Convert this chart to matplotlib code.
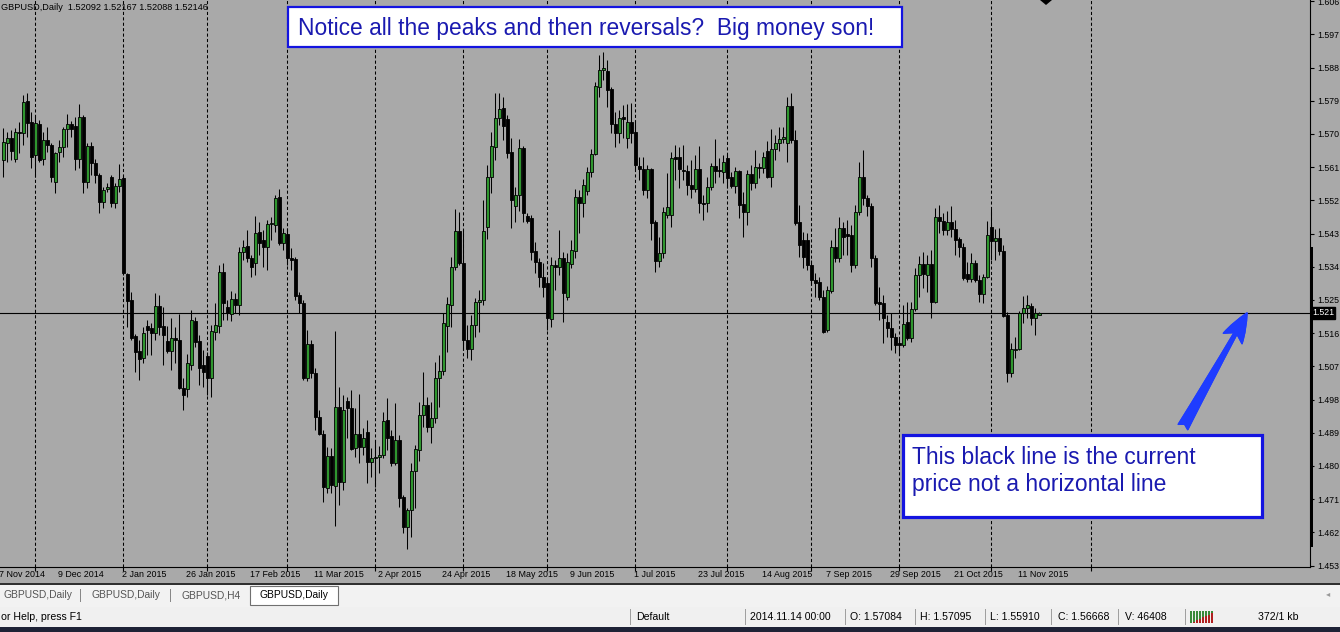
import matplotlib
matplotlib.use("Agg")
import matplotlib.pyplot as plt
from matplotlib.patches import Rectangle, Polygon
from matplotlib.transforms import blended_transform_factory
import numpy as np

# GBPUSD daily candles
opens = [
    1.5629, 1.5675, 1.5689, 1.5632, 1.5705, 1.5703, 1.5789, 1.5732, 1.5643, 1.5727,
    1.5632, 1.5684, 1.5670, 1.5570, 1.5651, 1.5665, 1.5713, 1.5727, 1.5721, 1.5632,
    1.5746, 1.5570, 1.5667, 1.5621, 1.5589, 1.5515, 1.5551, 1.5583, 1.5513, 1.5559,
    1.5581, 1.5320, 1.5250, 1.5152, 1.5112, 1.5093, 1.5179, 1.5174, 1.5160, 1.5234,
    1.5179, 1.5139, 1.5112, 1.5147, 1.5141, 1.5011, 1.5009, 1.5074, 1.5193, 1.5139,
    1.5074, 1.5098, 1.5038, 1.5163, 1.5179, 1.5326, 1.5231, 1.5212, 1.5253, 1.5236,
    1.5380, 1.5396, 1.5364, 1.5350, 1.5434, 1.5412, 1.5393, 1.5456, 1.5453, 1.5529,
    1.5404, 1.5429, 1.5364, 1.5361, 1.5263, 1.5242, 1.5038, 1.5131, 1.5052, 1.4933,
    1.4887, 1.4740, 1.4827, 1.4746, 1.4960, 1.4756, 1.4976, 1.4957, 1.4849, 1.4887,
    1.4851, 1.4892, 1.4811, 1.4822, 1.4824, 1.4830, 1.4925, 1.4881, 1.4808, 1.4870,
    1.4716, 1.4634, 1.4681, 1.4786, 1.4843, 1.4938, 1.4965, 1.4906, 1.4930, 1.5038,
    1.5057, 1.5179, 1.5236, 1.5339, 1.5437, 1.5350, 1.5141, 1.5117, 1.5182, 1.5244,
    1.5250, 1.5448, 1.5583, 1.5665, 1.5743, 1.5770, 1.5740, 1.5651, 1.5505, 1.5534,
    1.5662, 1.5477, 1.5472, 1.5383, 1.5353, 1.5312, 1.5296, 1.5198, 1.5345, 1.5339,
    1.5364, 1.5258, 1.5348, 1.5383, 1.5529, 1.5513, 1.5545, 1.5597, 1.5646, 1.5827,
    1.5873, 1.5871, 1.5822, 1.5727, 1.5703, 1.5746, 1.5689, 1.5732, 1.5705, 1.5613,
    1.5605, 1.5548, 1.5605, 1.5461, 1.5356, 1.5377, 1.5480, 1.5480, 1.5637, 1.5637,
    1.5602, 1.5600, 1.5562, 1.5551, 1.5605, 1.5513, 1.5513, 1.5556, 1.5613, 1.5602,
    1.5597, 1.5635, 1.5583, 1.5559, 1.5600, 1.5510, 1.5488, 1.5591, 1.5567, 1.5610,
    1.5608, 1.5654, 1.5583, 1.5659, 1.5675, 1.5686, 1.5675, 1.5776, 1.5684, 1.5461,
    1.5412, 1.5412, 1.5345, 1.5304, 1.5299, 1.5258, 1.5168, 1.5274, 1.5393, 1.5364,
    1.5445, 1.5429, 1.5426, 1.5345, 1.5488, 1.5583, 1.5526, 1.5505, 1.5364, 1.5244,
    1.5242, 1.5190, 1.5174, 1.5150, 1.5133, 1.5128, 1.5190, 1.5147, 1.5225, 1.5318,
    1.5347, 1.5318, 1.5347, 1.5244, 1.5475, 1.5464, 1.5440, 1.5461, 1.5442, 1.5415,
    1.5393, 1.5320, 1.5307, 1.5350, 1.5304, 1.5266, 1.5312, 1.5448, 1.5410, 1.5418,
    1.5383, 1.5209, 1.5052, 1.5114, 1.5117, 1.5215, 1.5228, 1.5234, 1.5201, 1.52092,
]
highs = [
    1.5716, 1.5705, 1.5711, 1.5716, 1.5732, 1.5805, 1.5811, 1.5759, 1.5751, 1.5738,
    1.5705, 1.5719, 1.5675, 1.5651, 1.5684, 1.5719, 1.5754, 1.5735, 1.5746, 1.5781,
    1.5751, 1.5675, 1.5678, 1.5632, 1.5594, 1.5556, 1.5567, 1.5589, 1.5567, 1.5619,
    1.5586, 1.5323, 1.5272, 1.5158, 1.5141, 1.5177, 1.5196, 1.5187, 1.5269, 1.5263,
    1.5231, 1.5179, 1.5201, 1.5177, 1.5212, 1.5038, 1.5104, 1.5223, 1.5204, 1.5155,
    1.5114, 1.5109, 1.5182, 1.5242, 1.5345, 1.5350, 1.5250, 1.5274, 1.5269, 1.5393,
    1.5412, 1.5440, 1.5372, 1.5477, 1.5461, 1.5440, 1.5467, 1.5475, 1.5534, 1.5550,
    1.5445, 1.5445, 1.5391, 1.5366, 1.5272, 1.5250, 1.5168, 1.5141, 1.5065, 1.4952,
    1.4897, 1.4851, 1.4849, 1.5166, 1.5014, 1.4992, 1.4987, 1.5006, 1.4957, 1.4995,
    1.4903, 1.4925, 1.4849, 1.4870, 1.4854, 1.4946, 1.4984, 1.4897, 1.4971, 1.4884,
    1.4721, 1.4686, 1.4808, 1.4857, 1.4973, 1.5055, 1.4987, 1.4973, 1.5082, 1.5101,
    1.5215, 1.5258, 1.5366, 1.5496, 1.5488, 1.5442, 1.5182, 1.5209, 1.5255, 1.5277,
    1.5521, 1.5616, 1.5705, 1.5811, 1.5811, 1.5800, 1.5751, 1.5689, 1.5556, 1.5686,
    1.5667, 1.5486, 1.5480, 1.5407, 1.5364, 1.5350, 1.5310, 1.5366, 1.5358, 1.5440,
    1.5380, 1.5377, 1.5412, 1.5550, 1.5548, 1.5578, 1.5610, 1.5659, 1.5841, 1.5914,
    1.5922, 1.5900, 1.5827, 1.5759, 1.5765, 1.5778, 1.5781, 1.5784, 1.5738, 1.5637,
    1.5637, 1.5616, 1.5608, 1.5467, 1.5420, 1.5502, 1.5594, 1.5651, 1.5670, 1.5665,
    1.5670, 1.5616, 1.5629, 1.5643, 1.5667, 1.5534, 1.5583, 1.5621, 1.5686, 1.5635,
    1.5643, 1.5646, 1.5597, 1.5610, 1.5602, 1.5543, 1.5602, 1.5616, 1.5656, 1.5621,
    1.5651, 1.5681, 1.5713, 1.5697, 1.5719, 1.5719, 1.5800, 1.5811, 1.5711, 1.5507,
    1.5434, 1.5431, 1.5358, 1.5323, 1.5312, 1.5277, 1.5288, 1.5412, 1.5445, 1.5475,
    1.5461, 1.5467, 1.5453, 1.5507, 1.5624, 1.5656, 1.5534, 1.5513, 1.5372, 1.5285,
    1.5263, 1.5209, 1.5215, 1.5160, 1.5147, 1.5236, 1.5244, 1.5244, 1.5337, 1.5369,
    1.5380, 1.5372, 1.5385, 1.5499, 1.5507, 1.5486, 1.5491, 1.5505, 1.5467, 1.5421,
    1.5404, 1.5353, 1.5377, 1.5358, 1.5318, 1.5320, 1.5464, 1.5496, 1.5442, 1.5445,
    1.5399, 1.5217, 1.5133, 1.5150, 1.5220, 1.5261, 1.5263, 1.5242, 1.5228, 1.52167,
]
lows = [
    1.5583, 1.5624, 1.5629, 1.5624, 1.5648, 1.5670, 1.5692, 1.5608, 1.5583, 1.5624,
    1.5616, 1.5651, 1.5570, 1.5540, 1.5624, 1.5637, 1.5665, 1.5692, 1.5602, 1.5608,
    1.5540, 1.5553, 1.5589, 1.5567, 1.5486, 1.5499, 1.5543, 1.5502, 1.5499, 1.5543,
    1.5318, 1.5177, 1.5141, 1.5055, 1.5033, 1.5079, 1.5101, 1.5101, 1.5141, 1.5155,
    1.5074, 1.5106, 1.5060, 1.5079, 1.5009, 1.4952, 1.4987, 1.5060, 1.5122, 1.5019,
    1.5014, 1.4992, 1.4987, 1.5141, 1.5160, 1.5196, 1.5196, 1.5193, 1.5215, 1.5209,
    1.5358, 1.5353, 1.5312, 1.5318, 1.5372, 1.5339, 1.5331, 1.5412, 1.5434, 1.5399,
    1.5385, 1.5345, 1.5331, 1.5250, 1.5215, 1.5033, 1.5030, 1.5038, 1.4897, 1.4884,
    1.4702, 1.4727, 1.4727, 1.4637, 1.4694, 1.4735, 1.4876, 1.4843, 1.4824, 1.4808,
    1.4830, 1.4754, 1.4770, 1.4743, 1.4781, 1.4822, 1.4843, 1.4800, 1.4803, 1.4689,
    1.4618, 1.4575, 1.4607, 1.4686, 1.4813, 1.4906, 1.4892, 1.4862, 1.4916, 1.4960,
    1.5046, 1.5109, 1.5177, 1.5331, 1.5345, 1.5114, 1.5093, 1.5087, 1.5150, 1.5163,
    1.5236, 1.5415, 1.5540, 1.5629, 1.5724, 1.5684, 1.5635, 1.5445, 1.5461, 1.5491,
    1.5461, 1.5458, 1.5358, 1.5323, 1.5285, 1.5258, 1.5168, 1.5177, 1.5277, 1.5318,
    1.5190, 1.5250, 1.5337, 1.5364, 1.5431, 1.5475, 1.5534, 1.5583, 1.5643, 1.5800,
    1.5846, 1.5773, 1.5703, 1.5665, 1.5675, 1.5689, 1.5662, 1.5675, 1.5602, 1.5575,
    1.5534, 1.5526, 1.5412, 1.5326, 1.5339, 1.5364, 1.5472, 1.5448, 1.5575, 1.5553,
    1.5575, 1.5534, 1.5526, 1.5543, 1.5486, 1.5467, 1.5488, 1.5548, 1.5567, 1.5583,
    1.5567, 1.5553, 1.5553, 1.5540, 1.5472, 1.5421, 1.5453, 1.5548, 1.5553, 1.5581,
    1.5594, 1.5581, 1.5556, 1.5629, 1.5654, 1.5675, 1.5624, 1.5675, 1.5453, 1.5366,
    1.5337, 1.5331, 1.5290, 1.5258, 1.5250, 1.5160, 1.5163, 1.5269, 1.5353, 1.5353,
    1.5372, 1.5372, 1.5326, 1.5337, 1.5480, 1.5507, 1.5477, 1.5339, 1.5236, 1.5196,
    1.5133, 1.5150, 1.5114, 1.5106, 1.5101, 1.5122, 1.5141, 1.5136, 1.5220, 1.5258,
    1.5282, 1.5272, 1.5201, 1.5242, 1.5431, 1.5426, 1.5426, 1.5421, 1.5372, 1.5366,
    1.5304, 1.5299, 1.5299, 1.5299, 1.5244, 1.5242, 1.5310, 1.5358, 1.5358, 1.5372,
    1.5204, 1.5027, 1.5041, 1.5093, 1.5114, 1.5187, 1.5201, 1.5182, 1.5155, 1.52088,
]
closes = [
    1.5678, 1.5689, 1.5654, 1.5705, 1.5703, 1.5786, 1.5730, 1.5637, 1.5730, 1.5629,
    1.5684, 1.5670, 1.5583, 1.5648, 1.5665, 1.5713, 1.5727, 1.5713, 1.5632, 1.5746,
    1.5570, 1.5667, 1.5621, 1.5589, 1.5515, 1.5548, 1.5556, 1.5513, 1.5559, 1.5578,
    1.5323, 1.5247, 1.5147, 1.5109, 1.5090, 1.5160, 1.5168, 1.5160, 1.5234, 1.5177,
    1.5155, 1.5112, 1.5147, 1.5141, 1.5011, 1.4992, 1.5079, 1.5196, 1.5136, 1.5065,
    1.5055, 1.5038, 1.5166, 1.5182, 1.5326, 1.5242, 1.5215, 1.5253, 1.5236, 1.5380,
    1.5393, 1.5364, 1.5339, 1.5431, 1.5404, 1.5393, 1.5456, 1.5458, 1.5526, 1.5404,
    1.5431, 1.5364, 1.5358, 1.5261, 1.5242, 1.5038, 1.5131, 1.5052, 1.4933, 1.4887,
    1.4743, 1.4827, 1.4748, 1.4960, 1.4756, 1.4952, 1.4957, 1.4846, 1.4887, 1.4851,
    1.4876, 1.4811, 1.4822, 1.4824, 1.4830, 1.4922, 1.4876, 1.4808, 1.4870, 1.4713,
    1.4634, 1.4681, 1.4786, 1.4846, 1.4938, 1.4965, 1.4906, 1.4930, 1.5038, 1.5057,
    1.5187, 1.5239, 1.5339, 1.5437, 1.5350, 1.5141, 1.5117, 1.5182, 1.5244, 1.5250,
    1.5437, 1.5583, 1.5667, 1.5743, 1.5767, 1.5721, 1.5648, 1.5521, 1.5534, 1.5662,
    1.5486, 1.5464, 1.5380, 1.5353, 1.5312, 1.5285, 1.5201, 1.5345, 1.5339, 1.5364,
    1.5269, 1.5353, 1.5385, 1.5529, 1.5513, 1.5562, 1.5597, 1.5646, 1.5830, 1.5873,
    1.5879, 1.5819, 1.5727, 1.5703, 1.5743, 1.5740, 1.5732, 1.5703, 1.5616, 1.5605,
    1.5548, 1.5605, 1.5458, 1.5356, 1.5377, 1.5488, 1.5502, 1.5635, 1.5632, 1.5605,
    1.5600, 1.5562, 1.5551, 1.5605, 1.5513, 1.5510, 1.5556, 1.5613, 1.5600, 1.5600,
    1.5624, 1.5581, 1.5559, 1.5600, 1.5507, 1.5488, 1.5591, 1.5567, 1.5610, 1.5608,
    1.5637, 1.5583, 1.5659, 1.5675, 1.5686, 1.5692, 1.5776, 1.5684, 1.5458, 1.5399,
    1.5366, 1.5345, 1.5304, 1.5296, 1.5258, 1.5163, 1.5277, 1.5393, 1.5364, 1.5445,
    1.5421, 1.5423, 1.5345, 1.5488, 1.5583, 1.5526, 1.5505, 1.5364, 1.5242, 1.5239,
    1.5201, 1.5174, 1.5150, 1.5128, 1.5128, 1.5185, 1.5147, 1.5225, 1.5318, 1.5347,
    1.5320, 1.5347, 1.5244, 1.5475, 1.5464, 1.5440, 1.5461, 1.5442, 1.5412, 1.5393,
    1.5310, 1.5307, 1.5350, 1.5304, 1.5266, 1.5312, 1.5426, 1.5410, 1.5418, 1.5383,
    1.5206, 1.5052, 1.5117, 1.5117, 1.5215, 1.5228, 1.5236, 1.5201, 1.5215, 1.52146,
]

# first label is clipped by the window edge in the screenshot
date_labels = ["7 Nov 2014", "9 Dec 2014", "2 Jan 2015", "26 Jan 2015", "17 Feb 2015",
               "11 Mar 2015", "2 Apr 2015", "24 Apr 2015", "18 May 2015", "9 Jun 2015",
               "1 Jul 2015", "23 Jul 2015", "14 Aug 2015", "7 Sep 2015", "29 Sep 2015",
               "21 Oct 2015", "11 Nov 2015"]
label_bars = [-0.8, 14, 30, 46, 62, 78, 94, 110, 126, 142, 158, 174, 190, 206, 222, 238, 254]
month_bars = [8, 30, 51, 71, 93, 115, 136, 158, 181, 202, 224, 247, 272]
price_ticks = [1.606, 1.597, 1.588, 1.579, 1.570, 1.561, 1.552, 1.543, 1.534, 1.525,
               1.516, 1.507, 1.498, 1.489, 1.480, 1.471, 1.462, 1.453]
current_price = 1.52146
header = "GBPUSD,Daily  1.52092 1.52167 1.52088 1.52146"
status_items = [("Default", 636), ("2014.11.14 00:00", 750), ("O: 1.57084", 850),
                ("H: 1.57095", 920), ("L: 1.55910", 990), ("C: 1.56668", 1058),
                ("V: 46408", 1125), ("372/1 kb", 1258)]
status_seps = [630, 745, 845, 915, 985, 1051, 1118, 1185]

W, H = 1340, 632
BG = "#a9a9a9"
BULL = "#2f962f"
BLUE_TXT = "#1a1ab0"
BLUE_BOX = "#1414e0"
UI = "Liberation Sans"

fig = plt.figure(figsize=(W / 100, H / 100), dpi=100)
fig.patch.set_facecolor(BG)


def px_box(x, y, w, h, **kw):
    r = Rectangle((x / W, 1 - (y + h) / H), w / W, h / H, transform=fig.transFigure, **kw)
    fig.add_artist(r)
    return r


def px_text(x, y, s, family=UI, **kw):
    return fig.text(x / W, 1 - y / H, s, va="center", ha="left", family=family, **kw)


ax = fig.add_axes([0, 1 - 567 / H, 1310 / W, 567 / H])
ax.set_facecolor(BG)
ax.set_xlim(-0.825, 326.675)
ax.set_ylim(1.4526, 1.6063)
for s in ["top", "left"]:
    ax.spines[s].set_visible(False)
for s in ["right", "bottom"]:
    ax.spines[s].set_color("black")
    ax.spines[s].set_linewidth(0.8)

o = np.array(opens)
h = np.array(highs)
l = np.array(lows)
c = np.array(closes)
x = np.arange(len(c))
up = c >= o

ax.vlines(x, l, h, color="black", lw=0.75, zorder=3)
body = np.maximum(np.abs(c - o), 0.00003)
ax.bar(x, body, bottom=np.minimum(o, c), width=0.68,
       color=np.where(up, BULL, "black"), edgecolor="black", linewidth=0.6, zorder=4)

for g in month_bars:
    ax.axvline(g, color="black", lw=0.75, ls=(0, (3, 2.2)), zorder=2)
ax.axhline(current_price, color="black", lw=0.8, zorder=2)

ax.yaxis.tick_right()
ax.set_yticks(price_ticks)
ax.set_yticklabels([f"{t:.3f}" for t in price_ticks], family=UI)
ax.tick_params(axis="y", direction="out", length=3, width=0.8, pad=2, labelsize=6.3)
ax.set_xticks(month_bars)
ax.set_xticklabels([])
ax.tick_params(axis="x", direction="out", length=3, width=0.8)

bt = blended_transform_factory(ax.transData, ax.transAxes)
for b, lab in zip(label_bars, date_labels):
    ax.text(b - 0.3, -0.006, lab, transform=bt, ha="left", va="top",
            fontsize=6.4, family=UI, clip_on=False)

bp = blended_transform_factory(ax.transAxes, ax.transData)
ax.text(1.0015, current_price, "1.521", transform=bp, color="white", fontsize=6.3,
        family=UI, va="center", ha="left",
        bbox=dict(boxstyle="square,pad=0.15", fc="black", ec="black"), zorder=6)

px_text(1, 8, header, fontsize=6.6, color="black")

# thick bar on the price scale and the chart-shift marker
px_box(1309.5, 247, 3, 300, fc="black", ec="none")
fig.add_artist(Polygon([(1040 / W, 1.0), (1052 / W, 1.0), (1046 / W, 1 - 5 / H)],
                       closed=True, transform=fig.transFigure, fc="black", ec="none"))

# annotations
px_box(288, 7, 614, 40, fc="white", ec=BLUE_BOX, lw=1.6)
px_text(298, 28, "Notice all the peaks and then reversals?  Big money son!",
        fontsize=16.4, color=BLUE_TXT)
px_box(903, 435, 359, 82, fc="white", ec=BLUE_BOX, lw=2.3)
px_text(912, 457, "This black line is the current", fontsize=16.5, color=BLUE_TXT)
px_text(912, 484, "price not a horizontal line", fontsize=16.5, color=BLUE_TXT)
fig.add_artist(plt.annotate(
    "", xy=(1247, H - 313), xytext=(1183, H - 427),
    xycoords="figure pixels", textcoords="figure pixels",
    arrowprops=dict(arrowstyle="fancy,head_length=0.75,head_width=0.55,tail_width=0.28",
                    mutation_scale=28, fc="#1e3cff", ec="#1e3cff",
                    shrinkA=0, shrinkB=0)))

# tab row
px_box(0, 583, W, 24, fc="#f2f2f2", ec="none")
px_box(0, 583, W, 1.5, fc="#303030", ec="none")
px_box(250, 586, 88, 19, fc="white", ec="#707070", lw=0.8)
px_text(259, 595.5, "GBPUSD,Daily", fontsize=7.4, color="black")
for s, xx in [("GBPUSD,Daily", 4), ("GBPUSD,Daily", 92), ("GBPUSD,H4", 182)]:
    px_text(xx, 595.5, s, fontsize=7.4, color="#555555")
for xx in [80, 170]:
    px_box(xx, 589, 0.8, 13, fc="#888888", ec="none")
px_text(1326, 594, "\u25c2", family=["DejaVu Sans"], fontsize=6, color="#999999")

# status bar
px_box(0, 607, W, 21, fc="#f0f0f0", ec="none")
px_box(0, 606.5, W, 0.8, fc="#c8c8c8", ec="none")
px_text(1, 617.5, "or Help, press F1", fontsize=7.6, color="black")
for s, xx in status_items:
    px_text(xx, 617.5, s, fontsize=7.6, color="black")
for xx in status_seps:
    px_box(xx, 609, 0.8, 16, fc="#a0a0a0", ec="none")
for k in range(8):
    px_box(1190 + 3 * k, 611, 2, 12, fc="#3a8a3a", ec="none")
    px_box(1190 + 3 * k, 623 - 1.4 * k, 2, 1.4 * k, fc="#b02020", ec="none")

# taskbar strip
px_box(0, 627, W, 5, fc="#1e2236", ec="none")

fig.savefig("out.png", dpi=100, facecolor=fig.get_facecolor())
